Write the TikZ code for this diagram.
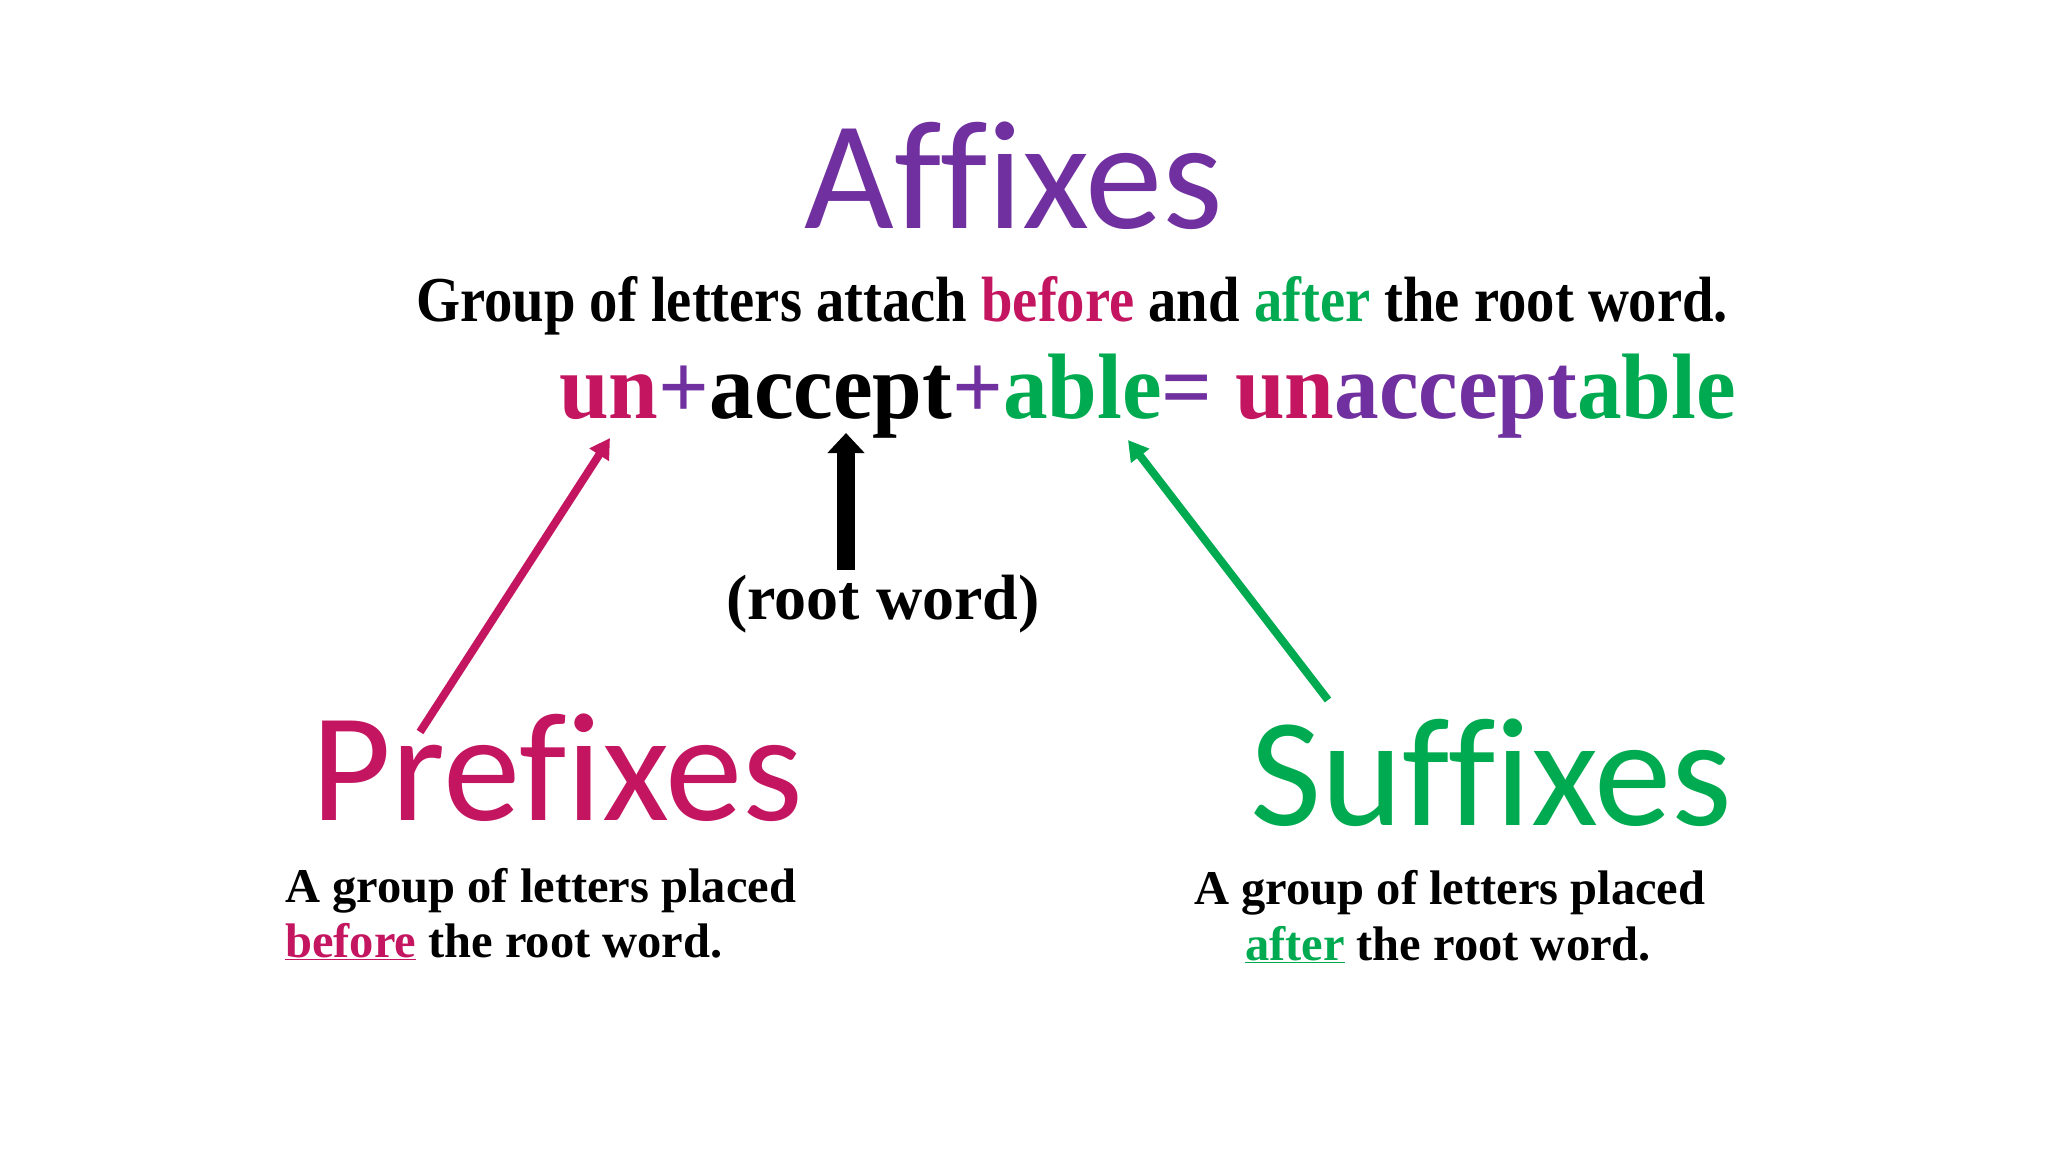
\documentclass[tikz,border=0pt]{standalone}
\usepackage{fontspec}
\setmainfont{Liberation Serif}
\newfontfamily\calib[Ligatures=NoCommon]{Carlito}
\newfontfamily\subfont[FakeStretch=0.885]{Liberation Serif}
\newfontfamily\eqfont[FakeStretch=0.96]{Liberation Serif}
\usetikzlibrary{arrows.meta,positioning}

\definecolor{affpurple}{RGB}{112,48,160}
\definecolor{prefred}{RGB}{196,22,96}
\definecolor{suffgreen}{RGB}{0,170,80}

\begin{document}
\begin{tikzpicture}[x=1pt,y=-1pt,
  title/.style={inner sep=0pt,font=\calib\fontsize{155}{160}\selectfont},
  defline/.style={inner sep=0pt,font=\subfont\bfseries\fontsize{64}{70}\selectfont},
  eq/.style={inner sep=0pt,font=\eqfont\bfseries\fontsize{93}{100}\selectfont},
  desc/.style={inner sep=0pt,font=\bfseries\fontsize{48.5}{55}\selectfont},
  pointer/.style={-{Triangle[width=22pt,length=20pt]},line width=8pt}]
\useasboundingbox[fill=white] (0,0) rectangle (2048,1152);

\node[title,text=affpurple,anchor=base] (affixes) at (1014,228) {Affixes};
\node[defline,anchor=base west] (def) at (416,321) {Group of letters attach \textcolor{prefred}{before} and \textcolor{suffgreen}{after} the root word.};
\node[eq,anchor=base west] (eqn) at (559,418) {\textcolor{prefred}{un}\textcolor{affpurple}{+}accept\textcolor{affpurple}{+}\textcolor{suffgreen}{able}\textcolor{affpurple}{=} \textcolor{prefred}{un}\textcolor{affpurple}{accept}\textcolor{suffgreen}{able}};
\node[defline,font=\bfseries\fontsize{64}{70}\selectfont,anchor=base] (root) at (883,619) {(root word)};

\node[title,text=prefred,anchor=base west] (prefixes) at (311,820) {Prefixes};
\node[title,text=suffgreen,anchor=base west] (suffixes) at (1250,825) {Suffixes};

\node[desc,anchor=base west] (preA) at (285,902) {A group of letters placed};
\node[desc,anchor=base west] (preB) at (285,957) {\textcolor{prefred}{\underline{before}} the root word.};
\node[desc,anchor=base] (sufA) at (1450,904) {A group of letters placed};
\node[desc,anchor=base] (sufB) at (1448,960) {\textcolor{suffgreen}{\underline{after}} the root word.};

% arrow ends
\coordinate (preTail) at (420,732);
\coordinate (preTip) at (610,438);
\coordinate (rootTail) at (846,570);
\coordinate (rootTip) at (846,433);
\coordinate (sufTail) at (1328,700);
\coordinate (sufTip) at (1128,440);

\draw[pointer,prefred] (preTail) -- (preTip);
\draw[pointer,suffgreen] (sufTail) -- (sufTip);
\draw[pointer,line width=18pt,-{Triangle[width=36pt,length=20pt]}] (rootTail) -- (rootTip);
\end{tikzpicture}
\end{document}
